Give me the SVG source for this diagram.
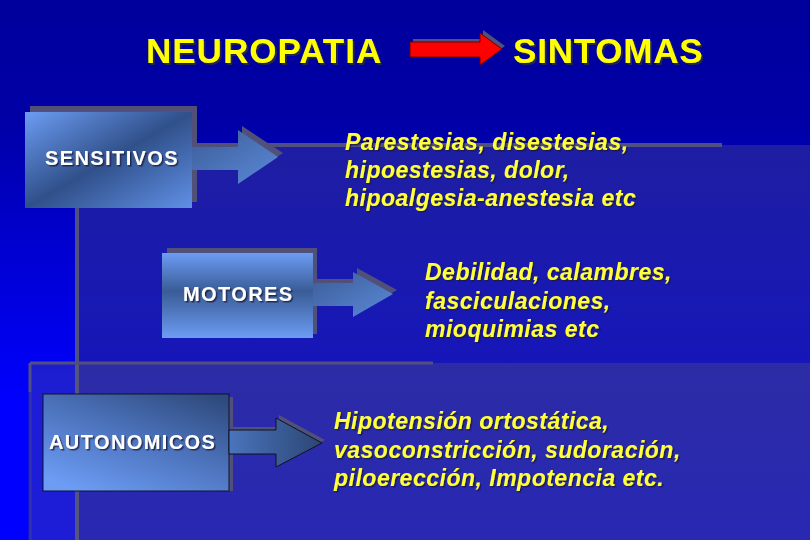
<svg xmlns="http://www.w3.org/2000/svg" width="810" height="540" viewBox="0 0 810 540">
<defs>
<linearGradient id="bg" x1="0" y1="0" x2="0" y2="1">
<stop offset="0" stop-color="#00009c"/>
<stop offset="0.22" stop-color="#0000a6"/>
<stop offset="0.45" stop-color="#0000d0"/>
<stop offset="0.75" stop-color="#0000ff"/>
<stop offset="1" stop-color="#0000ff"/>
</linearGradient>
<linearGradient id="p1" x1="0" y1="0" x2="0" y2="1">
<stop offset="0" stop-color="#1e1ea2"/>
<stop offset="1" stop-color="#1010cc"/>
</linearGradient>
<linearGradient id="gSens" x1="0" y1="0" x2="1" y2="1">
<stop offset="0" stop-color="#6c9cf2"/>
<stop offset="0.5" stop-color="#30508a"/>
<stop offset="1" stop-color="#6090e6"/>
</linearGradient>
<linearGradient id="gMot" x1="0" y1="0" x2="0" y2="1">
<stop offset="0" stop-color="#6c9cf4"/>
<stop offset="0.45" stop-color="#3a5c96"/>
<stop offset="1" stop-color="#6c9cf4"/>
</linearGradient>
<linearGradient id="gAut" x1="0.9" y1="0" x2="0.2" y2="1">
<stop offset="0" stop-color="#2e4a7c"/>
<stop offset="0.45" stop-color="#4a70b8"/>
<stop offset="1" stop-color="#6c9cf4"/>
</linearGradient>
<linearGradient id="gArr" x1="0" y1="0" x2="1" y2="1">
<stop offset="0" stop-color="#3c5c98"/>
<stop offset="1" stop-color="#5a8ad8"/>
</linearGradient>
<linearGradient id="gArrA" x1="0" y1="0" x2="1" y2="0">
<stop offset="0" stop-color="#4a74bc"/>
<stop offset="1" stop-color="#2c4674"/>
</linearGradient>
<filter id="ts" x="-5%" y="-20%" width="115%" height="150%">
<feDropShadow dx="2" dy="2" stdDeviation="0.4" flood-color="#2a2a40" flood-opacity="0.9"/>
</filter>
<filter id="ts1" x="-5%" y="-20%" width="115%" height="150%">
<feDropShadow dx="1.5" dy="1.5" stdDeviation="0.3" flood-color="#1a1a40" flood-opacity="0.8"/>
</filter>
</defs>
<style>
.title{font-family:"Liberation Sans",Arial,sans-serif;font-weight:bold;font-size:35px;fill:#ffff00;filter:url(#ts)}
.lbl{font-family:"Liberation Sans",Arial,sans-serif;font-weight:bold;font-size:20px;fill:#ffffff;letter-spacing:1.4px;filter:url(#ts1)}
.sym{font-family:"Liberation Sans",Arial,sans-serif;font-weight:bold;font-style:italic;font-size:23px;fill:#ffff3a;letter-spacing:0.5px;filter:url(#ts1)}
.shd{fill:#505078}
.gl{stroke:#505080;fill:none}
</style>
<!-- background -->
<rect x="0" y="0" width="810" height="540" fill="url(#bg)"/>
<rect x="76" y="145" width="734" height="395" fill="url(#p1)"/>
<g id="lines1">
<line class="gl" x1="76" y1="145" x2="722" y2="145" stroke-width="4"/>
<line class="gl" x1="77" y1="145" x2="77" y2="540" stroke-width="4"/>
</g>
<rect x="30" y="363" width="780" height="177" fill="#60607c" opacity="0.3"/>
<g id="lines2">
<line class="gl" x1="30" y1="363" x2="433" y2="363" stroke-width="3"/>
<line class="gl" x1="30" y1="363" x2="30" y2="392" stroke-width="3"/>
<line class="gl" x1="30" y1="392" x2="30" y2="540" stroke-width="3" opacity="0.5"/>
</g>

<g id="title">
<text class="title" x="146" y="63" letter-spacing="1">NEUROPATIA</text>
<text class="title" x="513" y="63" letter-spacing="0.8">SINTOMAS</text>
</g>

<g id="connectors">
<g id="red-arrow">
<polygon class="shd" points="413,39 483,39 483,30 505,46 483,62 483,54 413,54"/>
<polygon points="410,42 480,42 480,33 502,49 480,65 480,57 410,57" fill="#ff0000" stroke="#700000" stroke-width="1"/>
</g>
</g>

<g id="sensitivos">
<rect class="shd" x="30" y="106" width="167" height="96"/>
<polygon class="shd" points="196,143 242,143 242,126 283,153 242,180 242,166 196,166"/>
<rect x="25" y="112" width="167" height="96" fill="url(#gSens)"/>
<polygon points="192,147 238,147 238,130 278,157 238,184 238,170 192,170" fill="url(#gArr)"/>
<text class="lbl" x="45" y="165">SENSITIVOS</text>
</g>

<g id="motores">
<rect class="shd" x="167" y="248" width="150" height="86"/>
<polygon class="shd" points="316,279 357,279 357,268 397,290 357,313 357,302 316,302"/>
<rect x="162" y="253" width="151" height="85" fill="url(#gMot)"/>
<polygon points="313,283 353,283 353,272 393,294 353,317 353,306 313,306" fill="url(#gArr)"/>
<text class="lbl" x="183" y="301">MOTORES</text>
</g>

<g id="autonomicos">
<rect class="shd" x="46" y="397" width="187" height="94"/>
<polygon class="shd" points="232,427 279,427 279,415 325,440 279,464 279,451 232,451"/>
<rect x="43" y="394" width="186" height="97" fill="url(#gAut)" stroke="#101030" stroke-width="1"/>
<polygon points="229,430 276,430 276,418 322,443 276,467 276,454 229,454" fill="url(#gArrA)" stroke="#101020" stroke-width="1"/>
<text class="lbl" x="49" y="449" letter-spacing="1">AUTONOMICOS</text>
</g>

<g id="sintomas-sensitivos">
<text class="sym" x="345" y="150">Parestesias, disestesias,</text>
<text class="sym" x="345" y="178">hipoestesias, dolor,</text>
<text class="sym" x="345" y="206">hipoalgesia-anestesia etc</text>
</g>
<g id="sintomas-motores">
<text class="sym" x="425" y="280">Debilidad, calambres,</text>
<text class="sym" x="425" y="309">fasciculaciones,</text>
<text class="sym" x="425" y="337">mioquimias etc</text>
</g>
<g id="sintomas-autonomicos">
<text class="sym" x="334" y="429">Hipotensión ortostática,</text>
<text class="sym" x="334" y="458">vasoconstricción, sudoración,</text>
<text class="sym" x="334" y="486">piloerección, Impotencia etc.</text>
</g>
</svg>
